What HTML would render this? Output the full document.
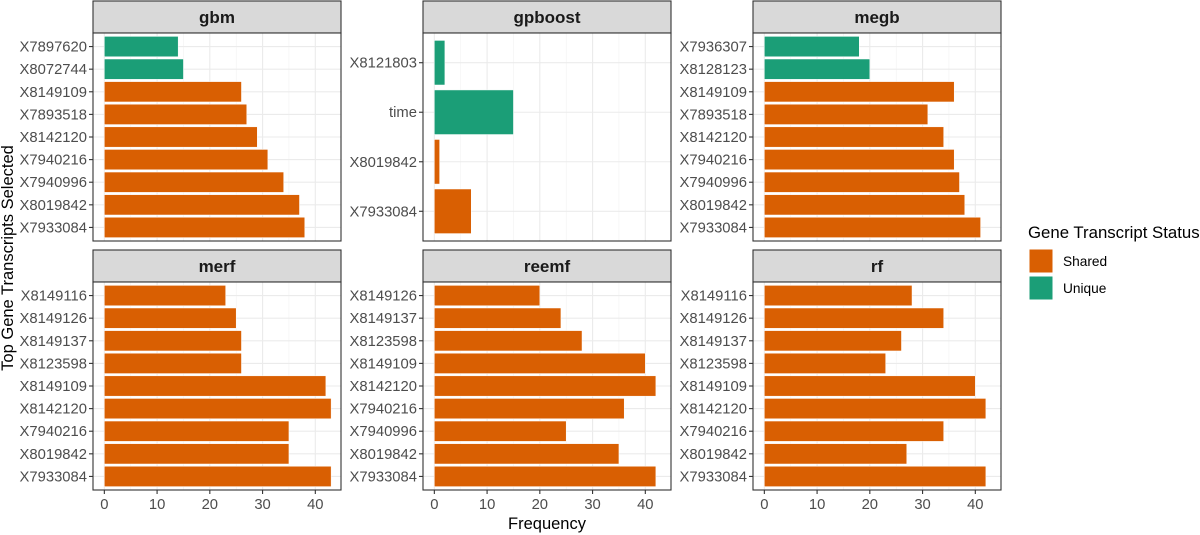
<!DOCTYPE html>
<html><head><meta charset="utf-8"><style>
body{margin:0;background:#fff;}
svg{display:block;font-family:"Liberation Sans",Arial,sans-serif;}
</style></head><body>
<svg id="chart" width="1200" height="535"></svg>
<script>
const panelNames = ["gbm","gpboost","megb","merf","reemf","rf"];
const gbmCats = ["X7897620","X8072744","X8149109","X7893518","X8142120","X7940216","X7940996","X8019842","X7933084"];
const gbmVals = [14,15,26,27,29,31,34,37,38];
const gbmStatus = ["Unique","Unique","Shared","Shared","Shared","Shared","Shared","Shared","Shared"];
const gpboostCats = ["X8121803","time","X8019842","X7933084"];
const gpboostVals = [2,15,1,7];
const gpboostStatus = ["Unique","Unique","Shared","Shared"];
const megbCats = ["X7936307","X8128123","X8149109","X7893518","X8142120","X7940216","X7940996","X8019842","X7933084"];
const megbVals = [18,20,36,31,34,36,37,38,41];
const megbStatus = ["Unique","Unique","Shared","Shared","Shared","Shared","Shared","Shared","Shared"];
const merfCats = ["X8149116","X8149126","X8149137","X8123598","X8149109","X8142120","X7940216","X8019842","X7933084"];
const merfVals = [23,25,26,26,42,43,35,35,43];
const reemfCats = ["X8149126","X8149137","X8123598","X8149109","X8142120","X7940216","X7940996","X8019842","X7933084"];
const reemfVals = [20,24,28,40,42,36,25,35,42];
const rfCats = ["X8149116","X8149126","X8149137","X8123598","X8149109","X8142120","X7940216","X8019842","X7933084"];
const rfVals = [28,34,26,23,40,42,34,27,42];
const xTicks = [0,10,20,30,40];
const legendLabels = ["Shared","Unique"];

const colors = {Shared:"#D95F02", Unique:"#1B9E77"};
const NS="http://www.w3.org/2000/svg";
const svg=document.getElementById('chart');
function el(tag,attrs,parent){const e=document.createElementNS(NS,tag);for(const k in attrs)e.setAttribute(k,attrs[k]);(parent||svg).appendChild(e);return e;}
const allShared = n=>Array(n).fill("Shared");
const panels = [
 {name:"gbm",cats:gbmCats,vals:gbmVals,st:gbmStatus},
 {name:"gpboost",cats:gpboostCats,vals:gpboostVals,st:gpboostStatus},
 {name:"megb",cats:megbCats,vals:megbVals,st:megbStatus},
 {name:"merf",cats:merfCats,vals:merfVals,st:allShared(9)},
 {name:"reemf",cats:reemfCats,vals:reemfVals,st:allShared(9)},
 {name:"rf",cats:rfCats,vals:rfVals,st:allShared(9)}
];
const colX=[93,423,753], rowY=[1,250], PW=248, SH=32, BH=208;
const xmin=-2.15, xmax=44.87;
panels.forEach((p,i)=>{
  const px=colX[i%3], sy=rowY[Math.floor(i/3)], by=sy+SH;
  const g=el('g',{});
  
  
  const xs=v=>px+(v-xmin)/(xmax-xmin)*PW;
  const n=p.cats.length, step=BH/(n-1+1.2);
  const ys=k=>by+step*(0.6+k);
  const st=el('rect',{x:px,y:sy,width:PW,height:SH,fill:'#d9d9d9',stroke:'#333','stroke-width':1.1},g);
  
  const stt=el('text',{x:px+PW/2,y:sy+SH/2+6,'text-anchor':'middle','font-size':17,'font-weight':'bold',fill:'#1a1a1a'},g);
  stt.textContent=p.name;
  
  el('rect',{x:px,y:by,width:PW,height:BH,fill:'#fff'},g);
  for(let t=5;t<45;t+=10) el('line',{x1:xs(t),x2:xs(t),y1:by,y2:by+BH,stroke:'#f2f2f2','stroke-width':0.6},g);
  xTicks.forEach(t=>el('line',{x1:xs(t),x2:xs(t),y1:by,y2:by+BH,stroke:'#ebebeb','stroke-width':1.1},g));
  p.cats.forEach((c,k)=>el('line',{x1:px,x2:px+PW,y1:ys(k),y2:ys(k),stroke:'#ebebeb','stroke-width':1.1},g));
  p.cats.forEach((c,k)=>{
    const b=el('rect',{x:xs(0),y:ys(k)-step*0.45,width:xs(p.vals[k])-xs(0),height:step*0.9,fill:colors[p.st[k]],stroke:'#fff','stroke-width':0.5},g);
    
    
    el('line',{x1:px-4,x2:px,y1:ys(k),y2:ys(k),stroke:'#333','stroke-width':1.1},g);
    const t=el('text',{x:px-6,y:ys(k)+5,'text-anchor':'end','font-size':14.8,fill:'#4d4d4d'},g);
    t.textContent=c;
    
  });
  el('rect',{x:px,y:by,width:PW,height:BH,fill:'none',stroke:'#333','stroke-width':1.1},g);
  if(i>=3){
    xTicks.forEach(t=>{
      el('line',{x1:xs(t),x2:xs(t),y1:by+BH,y2:by+BH+4,stroke:'#333','stroke-width':1.1},g);
      const tl=el('text',{x:xs(t),y:by+BH+19,'text-anchor':'middle','font-size':14.8,fill:'#4d4d4d'},g);
      tl.textContent=t;
      
    });
  }
});
const xt=el('text',{x:547,y:529,'text-anchor':'middle','font-size':16.5,fill:'#000'});
xt.textContent='Frequency';

const yt=el('text',{x:0,y:0,'text-anchor':'middle','font-size':16.5,fill:'#000',transform:'translate(13,258) rotate(-90)'});
yt.textContent='Top Gene Transcripts Selected';

const lg=el('g',{});

const lt=el('text',{x:1028,y:238,'font-size':16.8,fill:'#000'},lg);
lt.textContent='Gene Transcript Status';

legendLabels.forEach((l,k)=>{
  const r=el('rect',{x:1029,y:249+k*27,width:24,height:24,fill:colors[l],stroke:'#fff'},lg);
  
  const t=el('text',{x:1063,y:266+k*27,'font-size':13.7,fill:'#000'},lg);
  t.textContent=l;
  
});
</script>
</body></html>
